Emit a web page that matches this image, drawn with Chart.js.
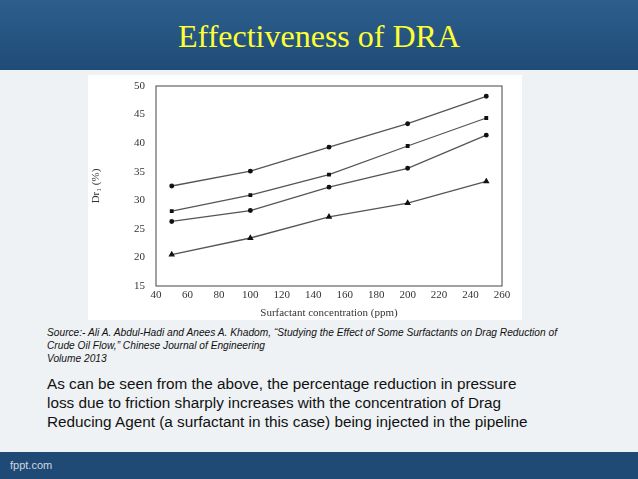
<!DOCTYPE html><html><head><meta charset="utf-8">
<script src="https://cdn.jsdelivr.net/npm/chart.js@4"></script>
<style>
body{margin:0;width:638px;height:479px;overflow:hidden;position:relative;background:#eef2f4;font-family:"Liberation Sans",Arial,sans-serif}
#top{position:absolute;left:0;top:0;width:638px;height:70px;background:linear-gradient(#2d5f8c,#1f4b78)}
#title{position:absolute;left:0;top:18px;width:638px;text-align:center;color:#ffff33;font:32px "Liberation Serif","Times New Roman",serif}
#bot{position:absolute;left:0;top:452px;width:638px;height:27px;background:#1f4a75;color:#cfd8e0;font-size:11px}
#bot span{position:absolute;left:10px;top:7px}
#box{position:absolute;left:88px;top:75px;width:434px;height:245px;background:#fff}
#src{position:absolute;left:47px;top:326px;width:560px;font-style:italic;font-size:10.2px;line-height:13px;color:#111}
#para{position:absolute;left:47px;top:374px;width:510px;font-size:15.3px;line-height:19px;color:#111}
</style></head><body>
<div id="top"></div><div id="title">Effectiveness of DRA</div>
<div id="box"><canvas id="c" width="434" height="245"></canvas></div>
<div id="src">Source:- Ali A. Abdul-Hadi and Anees A. Khadom, “Studying the Effect of Some Surfactants on Drag Reduction of<br>Crude Oil Flow,” Chinese Journal of Engineering<br>Volume 2013</div>
<div id="para">As can be seen from the above, the percentage reduction in pressure<br>loss due to friction sharply increases with the concentration of Drag<br>Reducing Agent (a surfactant in this case) being injected in the pipeline</div>
<div id="bot"><span>fppt.com</span></div>
<script>
const conc=[50,100,150,200,250];
const s1=[32.5,35.1,39.3,43.4,48.2];
const s2=[28.1,30.9,34.5,39.5,44.4];
const s3=[26.3,28.2,32.3,35.6,41.4];
const s4=[20.5,23.4,27.1,29.5,33.3];
const styles=['circle','rect','circle','triangle'];
const mk=(d,i)=>({data:d.map((v,j)=>({x:conc[j],y:v})),borderColor:'#555',borderWidth:1.3,pointStyle:styles[i],pointRadius:i==3?2.5:1.8,pointBackgroundColor:'#111',pointBorderColor:'#111'});
const box={id:'box',afterDraw(c){const a=c.chartArea,x=c.ctx;x.save();x.strokeStyle='#444';x.lineWidth=1;x.strokeRect(a.left,a.top,a.right-a.left,a.bottom-a.top);x.restore();}};
const tf={family:'"Liberation Serif","Times New Roman",serif',size:11};
new Chart(document.getElementById('c'),{type:'line',data:{datasets:[s1,s2,s3,s4].map(mk)},plugins:[box],
options:{responsive:false,animation:false,layout:{padding:{top:11,right:20}},plugins:{legend:{display:false},tooltip:{enabled:false}},
scales:{x:{type:'linear',min:40,max:260,ticks:{stepSize:20,color:'#333',font:tf,padding:0},grid:{display:false,tickLength:3},border:{display:false},
title:{display:true,text:'Surfactant concentration (ppm)',font:tf,color:'#333',padding:{top:2,bottom:0}},afterFit(s){s.height=34;}},
y:{min:15,max:50,ticks:{stepSize:5,color:'#333',font:tf},grid:{display:false},border:{display:false},
title:{display:true,text:'Dr\u2081 (%)',font:tf,color:'#333',padding:2},afterFit(s){s.width=68;}}}}});
</script></body></html>
